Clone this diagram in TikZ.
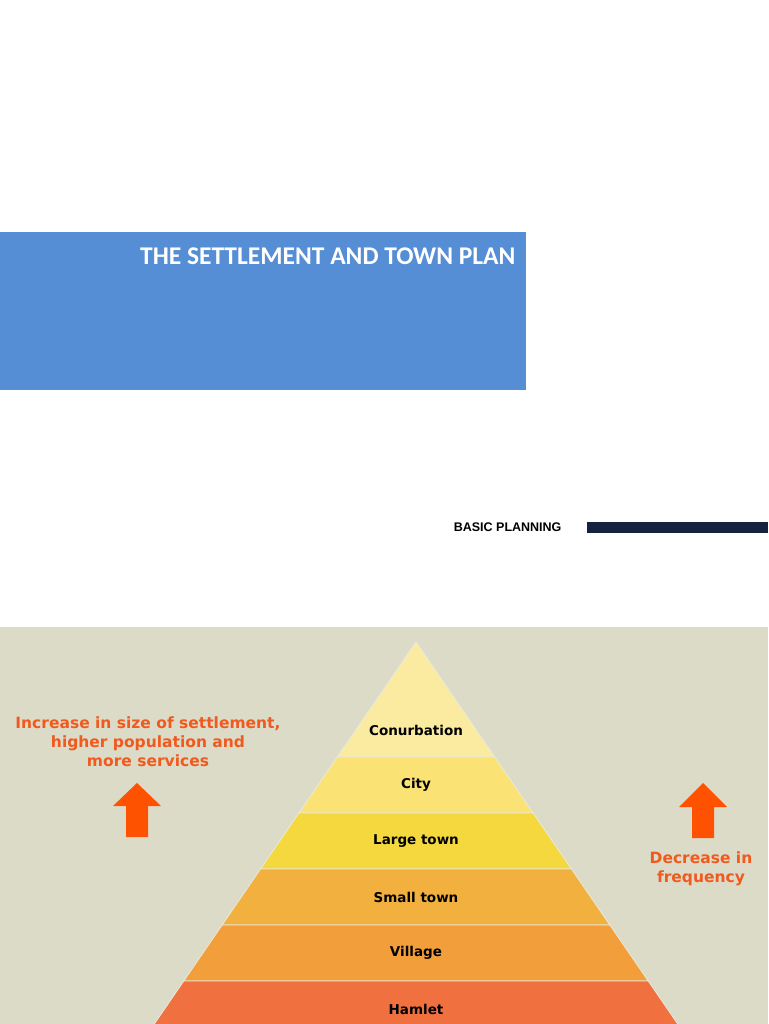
\documentclass[tikz,border=0pt]{standalone}
\usepackage{fontspec}
\setmainfont{Carlito}
\newfontfamily\pyrfont{DejaVu Sans}
\newfontfamily\labelfont{Liberation Sans}
\definecolor{panel}{HTML}{DCDBC8}
\definecolor{titleblue}{HTML}{558ED5}
\definecolor{navy}{HTML}{14243F}
\definecolor{hot}{HTML}{F05A1E}
\definecolor{arrowred}{HTML}{FF5200}
\definecolor{lvla}{HTML}{FBEBA0}
\definecolor{lvlb}{HTML}{FAE275}
\definecolor{lvlc}{HTML}{F4D83E}
\definecolor{lvld}{HTML}{F2B13E}
\definecolor{lvle}{HTML}{F29E3A}
\definecolor{lvlf}{HTML}{F07040}
\tikzset{
  lvltext/.style={font=\pyrfont\bfseries\fontsize{13.5}{16}\selectfont, text=black},
  hottext/.style={font=\pyrfont\bfseries\fontsize{15.5}{19}\selectfont, text=hot, align=center},
  bigarrow/.style={fill=arrowred, draw=none}
}
\begin{document}
\begin{tikzpicture}[x=1pt,y=-1pt]
\useasboundingbox (0,0) rectangle (768,1024);
\fill[white] (0,0) rectangle (768,1024);

% title block
\fill[titleblue] (0,232) rectangle (526,390);
\node[anchor=east, text=white, font=\fontsize{25.5}{30}\selectfont\bfseries] (title) at (519,256) {THE SETTLEMENT AND TOWN PLAN};

% footer label
\node[anchor=east, font=\labelfont\bfseries\fontsize{12.5}{14}\selectfont] (basic) at (565,527) {BASIC PLANNING};
\fill[navy] (587,522) rectangle (768,533);

% pyramid panel
\fill[panel] (0,627) rectangle (768,1024);

\coordinate (apex) at (416,642);
\foreach \top/\bot/\col/\txt [count=\i] in {642/757/lvla/Conurbation, 757/813/lvlb/City, 813/869/lvlc/Large town, 869/925/lvld/Small town, 925/981/lvle/Village, 981/1037/lvlf/Hamlet}{
  \pgfmathsetmacro{\wt}{0.685*(\top-642)}
  \pgfmathsetmacro{\wb}{0.685*(\bot-642)}
  \fill[\col, draw=panel!60!white, line width=0.8pt] (416-\wt,\top) -- (416+\wt,\top) -- (416+\wb,\bot) -- (416-\wb,\bot) -- cycle;
  \ifnum\i=1
    \node[lvltext] (lvl\i) at (416,730) {\txt};
  \else
    \node[lvltext] (lvl\i) at (416,{(\top+\bot)/2}) {\txt};
  \fi
}
\fill[white] (0,1024) rectangle (768,1040);

% left note
\node[hottext] (grow) at (148,742) {Increase in size of settlement,\\higher population and\\more services};
\fill[bigarrow] (126,837) -- (148,837) -- (148,806) -- (161,806) -- (137,783) -- (113,806) -- (126,806) -- cycle;

% right note
\node[hottext] (freq) at (701,869) {Decrease in\\frequency};
\fill[bigarrow] (692,838) -- (714,838) -- (714,807) -- (727,807) -- (703,783) -- (679,807) -- (692,807) -- cycle;
\end{tikzpicture}
\end{document}
